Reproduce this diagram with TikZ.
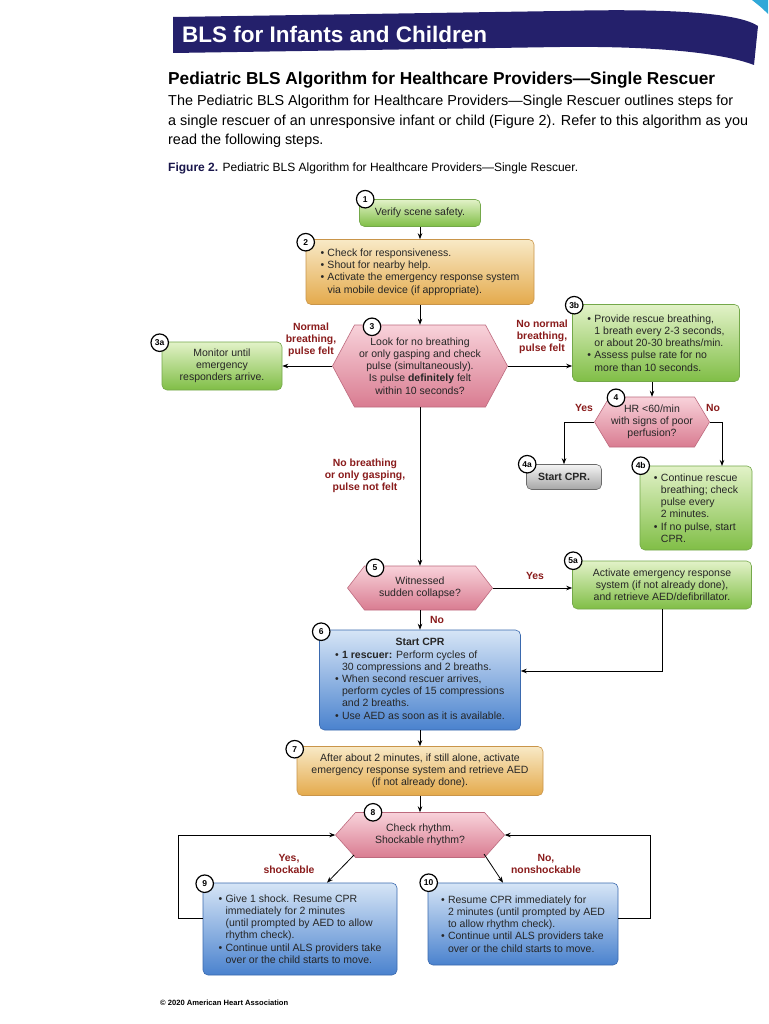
\documentclass[tikz,border=0pt]{standalone}
\usepackage{fontspec}
\setmainfont{Liberation Sans}
\usetikzlibrary{arrows.meta,calc}
\definecolor{navy}{HTML}{24206B}
\definecolor{labred}{HTML}{8A1C1C}
\definecolor{gtop}{HTML}{E2F2C8}
\definecolor{gbot}{HTML}{80BE46}
\definecolor{gdraw}{HTML}{74A84A}
\definecolor{otop}{HTML}{F8E9C6}
\definecolor{obot}{HTML}{E4AA4C}
\definecolor{odraw}{HTML}{C9954A}
\definecolor{ptop}{HTML}{F8D2DA}
\definecolor{pbot}{HTML}{D97C91}
\definecolor{pdraw}{HTML}{BD6A7E}
\definecolor{btop}{HTML}{D6E5F6}
\definecolor{bbot}{HTML}{4A82CE}
\definecolor{bdraw}{HTML}{3A69AE}
\definecolor{ytop}{HTML}{F4F4F4}
\definecolor{ybot}{HTML}{A6A6A6}
\definecolor{ydraw}{HTML}{6A6A6A}
\definecolor{cyanc}{HTML}{2FA8D8}
\newcommand\bxfont{\fontsize{10.5}{12.2}\selectfont}
\newcommand\lbfont{\fontsize{10.4}{12.3}\selectfont\bfseries}
\newcommand\bu{\makebox[7pt][l]{\textbullet}}
\newcommand\ind{\hspace*{7pt}}
\tikzset{
  box/.style={rectangle, rounded corners=5pt, line width=0.6pt, inner sep=2pt,
    font=\bxfont, text=black!85, align=center},
  gbox/.style={box, top color=gtop, bottom color=gbot, draw=gdraw},
  obox/.style={box, top color=otop, bottom color=obot, draw=odraw},
  bbox/.style={box, top color=btop, bottom color=bbot, draw=bdraw},
  ybox/.style={box, top color=ytop, bottom color=ybot, draw=ydraw},
  hexshade/.style={top color=ptop, bottom color=pbot, draw=pdraw, line width=0.6pt},
  hextext/.style={rectangle, inner sep=0pt, font=\bxfont, text=black!85, align=center},
  badge/.style={circle, draw=black, line width=1.2pt, fill=white, inner sep=0pt,
    minimum size=17.5pt, font=\fontsize{8.5}{9}\selectfont\bfseries},
  lab/.style={font=\lbfont, text=labred, align=center, inner sep=0pt},
  arr/.style={draw=black, line width=0.8pt, -{Stealth[length=6pt,width=4.5pt]}},
}
\newcommand\hexnode[7]{%
  \path[hexshade] (#2-#4/2,#3) -- (#2-#4/2+#6,#3-#5/2) -- (#2+#4/2-#6,#3-#5/2)
     -- (#2+#4/2,#3) -- (#2+#4/2-#6,#3+#5/2) -- (#2-#4/2+#6,#3+#5/2) -- cycle;
  \node[hextext, minimum width=#4pt, minimum height=#5pt] (#1) at (#2,#3) {#7};}
\begin{document}
\begin{tikzpicture}[x=1pt,y=-1pt]
\useasboundingbox (0,0) rectangle (768,1024);
\fill[white] (0,0) rectangle (768,1024);
% header banner
\fill[navy] (173,17) -- (560,11) .. controls (680,8) and (740,14) .. (758,26)
  -- (754,65) .. controls (720,52) and (650,46) .. (560,47) -- (173,53) -- cycle;
\fill[cyanc] (752,0) -- (768,0) -- (768,14) .. controls (762,8) .. (752,0) -- cycle;
\node[anchor=base west, text=white, font=\fontsize{22.5}{24}\selectfont\bfseries, inner sep=0pt] (title) at (182,43) {BLS for Infants and Children};
\node[anchor=base west, font=\fontsize{17.3}{19}\selectfont\bfseries, inner sep=0pt] (sub) at (168,85) {Pediatric BLS Algorithm for Healthcare Providers---Single Rescuer};
\node[anchor=north west, align=left, font=\fontsize{14.4}{19.5}\selectfont, inner sep=0pt] (para) at (168,95)
  {The Pediatric BLS Algorithm for Healthcare Providers---Single Rescuer outlines steps for\\
   a single rescuer of an unresponsive infant or child (Figure 2). Refer to this algorithm as you\\
   read the following steps.};
\node[anchor=base west, font=\fontsize{12}{14}\selectfont, inner sep=0pt] (cap) at (168,172)
  {{\bfseries\color{navy!70!black}Figure 2.} Pediatric BLS Algorithm for Healthcare Providers---Single Rescuer.};
\node[anchor=base west, font=\fontsize{7.6}{9}\selectfont\bfseries, inner sep=0pt] (foot) at (160,1005)
  {\textcopyright\ 2020 American Heart Association};

% nodes
\node[gbox, minimum width=121pt, minimum height=27pt] (n1) at (420,213) {Verify scene safety.};
\node[obox, minimum width=228pt, minimum height=65pt, align=left] (n2) at (420,272)
  {\bu Check for responsiveness.\\
   \bu Shout for nearby help.\\
   \bu Activate the emergency response system\\
   \ind via mobile device (if appropriate).};
\hexnode{n3}{420}{366}{175}{82}{22}{Look for no breathing\\or only gasping and check\\pulse (simultaneously).\\Is pulse \textbf{definitely} felt\\within 10 seconds?}
\node[gbox, minimum width=120pt, minimum height=48pt] (n3a) at (222,366)
  {Monitor until\\emergency\\responders arrive.};
\node[gbox, minimum width=167pt, minimum height=77pt, align=left] (n3b) at (656,343)
  {\bu Provide rescue breathing,\\
   \ind 1 breath every 2-3 seconds,\\
   \ind or about 20-30 breaths/min.\\
   \bu Assess pulse rate for no\\
   \ind more than 10 seconds.};
\hexnode{n4}{652}{422}{115}{50}{15}{HR <60/min\\with signs of poor\\perfusion?}
\node[ybox, minimum width=75pt, minimum height=25pt, font=\bxfont\bfseries] (n4a) at (564,477) {Start CPR.};
\node[gbox, minimum width=112pt, minimum height=84pt, align=left] (n4b) at (696,508)
  {\bu Continue rescue\\
   \ind breathing; check\\
   \ind pulse every\\
   \ind 2 minutes.\\
   \bu If no pulse, start\\
   \ind CPR.};
\hexnode{n5}{420}{588}{145}{44}{17}{Witnessed\\sudden collapse?}
\node[gbox, minimum width=179pt, minimum height=48pt] (n5a) at (662,585)
  {Activate emergency response\\system (if not already done),\\and retrieve AED/defibrillator.};
\node[bbox, minimum width=201pt, minimum height=100pt] (n6) at (420,680)
  {\begin{tabular}{@{}l@{}}
   \multicolumn{1}{@{}c@{}}{\bfseries Start CPR}\\
   \bu\textbf{1 rescuer:} Perform cycles of\\
   \ind 30 compressions and 2 breaths.\\
   \bu When second rescuer arrives,\\
   \ind perform cycles of 15 compressions\\
   \ind and 2 breaths.\\
   \bu Use AED as soon as it is available.
   \end{tabular}};
\node[obox, minimum width=246pt, minimum height=49pt] (n7) at (420,771)
  {After about 2 minutes, if still alone, activate\\emergency response system and retrieve AED\\(if not already done).};
\hexnode{n8}{420}{835}{169}{45}{20}{Check rhythm.\\Shockable rhythm?}
\node[bbox, minimum width=194pt, minimum height=92pt, align=left] (n9) at (300,929)
  {\bu Give 1 shock. Resume CPR\\
   \ind immediately for 2 minutes\\
   \ind (until prompted by AED to allow\\
   \ind rhythm check).\\
   \bu Continue until ALS providers take\\
   \ind over or the child starts to move.};
\node[bbox, minimum width=190pt, minimum height=82pt, align=left] (n10) at (523,924)
  {\bu Resume CPR immediately for\\
   \ind 2 minutes (until prompted by AED\\
   \ind to allow rhythm check).\\
   \bu Continue until ALS providers take\\
   \ind over or the child starts to move.};

% badges
\node[badge] (b1) at ($(n1.north west)+(6,0)$) {1};
\node[badge] (b2) at ($(n2.north west)+(0,3)$) {2};
\node[badge] (b3) at ($(n3.north)+(-48,2)$) {3};
\node[badge] (b3a) at ($(n3a.north west)+(-2,1)$) {3a};
\node[badge] (b3b) at ($(n3b.north west)+(2,1)$) {3b};
\node[badge] (b4) at ($(n4.north)+(-36,1)$) {4};
\node[badge] (b4a) at ($(n4a.north west)+(1,0)$) {4a};
\node[badge] (b4b) at ($(n4b.north west)+(1,0)$) {4b};
\node[badge] (b5) at ($(n5.north)+(-45,2)$) {5};
\node[badge] (b5a) at ($(n5a.north west)+(1,0)$) {5a};
\node[badge] (b6) at ($(n6.north west)+(2,2)$) {6};
\node[badge] (b7) at ($(n7.north west)+(-2,3)$) {7};
\node[badge] (b8) at ($(n8.north)+(-47,0)$) {8};
\node[badge] (b9) at ($(n9.north west)+(2,1)$) {9};
\node[badge] (b10) at ($(n10.north west)+(1,0)$) {10};

% connectors
\coordinate (c4b) at (722,466);
\draw[arr] (n1) -- (n2);
\draw[arr] (n2) -- (n3);
\draw[arr] (n3.west) -- (n3a.east);
\draw[arr] (n3.east) -- (n3.east -| n3b.west);
\draw[arr] (n3.south) -- (n5.north);
\draw[arr] (n4.north |- n3b.south) -- (n4.north);
\draw[arr] (n4.west) -| (n4a.north);
\draw[arr] (n4.east) -| (c4b);
\draw[arr] (n5.east) -- (n5.east -| n5a.west);
\draw[arr] (n5a.south) |- ([yshift=9pt]n6.east);
\draw[arr] (n5.south) -- (n6.north);
\draw[arr] (n6) -- (n7);
\draw[arr] (n7) -- (n8);
\draw[arr] ($(n8.center)+(-66,20)$) -- ([xshift=27pt]n9.north);
\draw[arr] ($(n8.center)+(64,19)$) -- ([xshift=-20pt]n10.north);
\draw[arr] ([yshift=11pt]n9.west) -- ++(-24,0) |- (n8.west);
\draw[arr] ([yshift=6pt]n10.east) -- ++(32,0) |- (n8.east);

% labels
\node[lab] (l3a) at (311,340) {Normal\\breathing,\\pulse felt};
\node[lab] (l3b) at (542,337) {No normal\\breathing,\\pulse felt};
\node[lab] (l4y) at (584,408) {Yes};
\node[lab] (l4n) at (713,408) {No};
\node[lab] (l35) at (365,476) {No breathing\\or only gasping,\\pulse not felt};
\node[lab] (l5y) at (535,576) {Yes};
\node[lab] (l5n) at (437,620) {No};
\node[lab] (l9) at (289,864) {Yes,\\shockable};
\node[lab] (l10) at (546,864) {No,\\nonshockable};
\end{tikzpicture}
\end{document}
